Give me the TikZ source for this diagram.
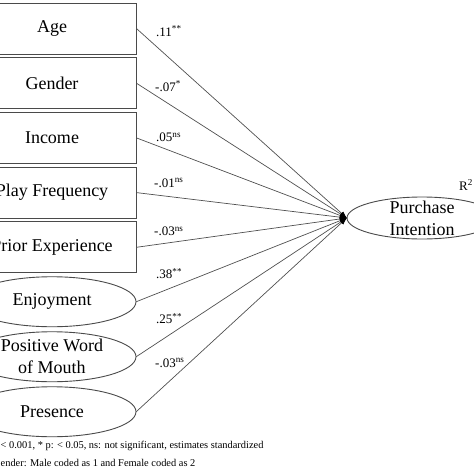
\documentclass[tikz,border=0pt]{standalone}
\usepackage{fontspec}
\setmainfont{Liberation Serif}
\usetikzlibrary{arrows.meta,positioning}
\definecolor{Frame}{HTML}{4A4A4A}
\definecolor{Edge}{HTML}{505050}

\begin{document}
\begin{tikzpicture}[x=1pt,y=-1pt,font=\fontsize{18}{22}\selectfont,>={Latex[length=7pt,width=5pt,color=black]}]
  \tikzstyle{obs}=[draw=Frame,line width=0.9pt,minimum width=168pt,minimum height=51pt,inner sep=0pt]
  \tikzstyle{lat}=[minimum width=168pt,minimum height=50pt,inner sep=0pt,align=center]
  \tikzstyle{ring}=[draw=Frame,line width=0.9pt]
  \tikzstyle{link}=[draw=Edge,line width=0.7pt,->]
  \tikzstyle{coef}=[anchor=base west,inner sep=0pt,font=\fontsize{13}{15}\selectfont]
  \tikzstyle{note}=[anchor=base west,inner sep=0pt,font=\fontsize{10.4}{12}\selectfont]
  \path[use as bounding box,clip] (0,0) rectangle (474,474);
  % observed predictors
  \node[obs] (age) at (52,28.5) {Age};
  \node[obs,below=2.8pt of age] (gender) {Gender};
  \node[obs,below=2.8pt of gender] (income) {Income};
  \node[obs,below=2.8pt of income] (play) {Play Frequency};
  \node[obs,below=2.8pt of play] (prior) {Prior Experience};
  % latent predictors
  \node[lat,below=3.3pt of prior] (enjoy) {Enjoyment};
  \node[lat,below=4.6pt of enjoy] (wom) {Positive Word\\of Mouth};
  \node[lat,below=4.6pt of wom] (pres) {Presence};
  \foreach \n in {enjoy,wom,pres}
    \draw[ring] (\n.center) ellipse [x radius=84pt,y radius=25pt];
  % outcome
  \node[lat,minimum width=150pt,minimum height=42pt] (pi) at (422,218) {Purchase\\Intention};
  \draw[ring] (pi.center) ellipse [x radius=75pt,y radius=21pt];
  \node[coef] (r2) at (459,190) {R\textsuperscript{2}};
  \foreach \n in {age,gender,income,play,prior,enjoy,wom,pres}
    \draw[link] (\n.east) -- (pi.west);
  % path estimates
  \node[coef] (c1) at (156,36) {.11\textsuperscript{**}};
  \node[coef] (c2) at (155,91) {-.07\textsuperscript{*}};
  \node[coef] (c3) at (156,141.5) {.05\textsuperscript{ns}};
  \node[coef] (c4) at (154,187) {-.01\textsuperscript{ns}};
  \node[coef] (c5) at (154,235.5) {-.03\textsuperscript{ns}};
  \node[coef] (c6) at (156,278.5) {.38\textsuperscript{**}};
  \node[coef] (c7) at (156,323.5) {.25\textsuperscript{**}};
  \node[coef] (c8) at (155,367) {-.03\textsuperscript{ns}};
  % footnote
  \node[note] (n1) at (0.5,448) {< 0.001, * p: < 0.05, ns: not significant, estimates standardized};
  \node[note] (n2) at (0.5,466) {ender: Male coded as 1 and Female coded as 2};
\end{tikzpicture}
\end{document}
